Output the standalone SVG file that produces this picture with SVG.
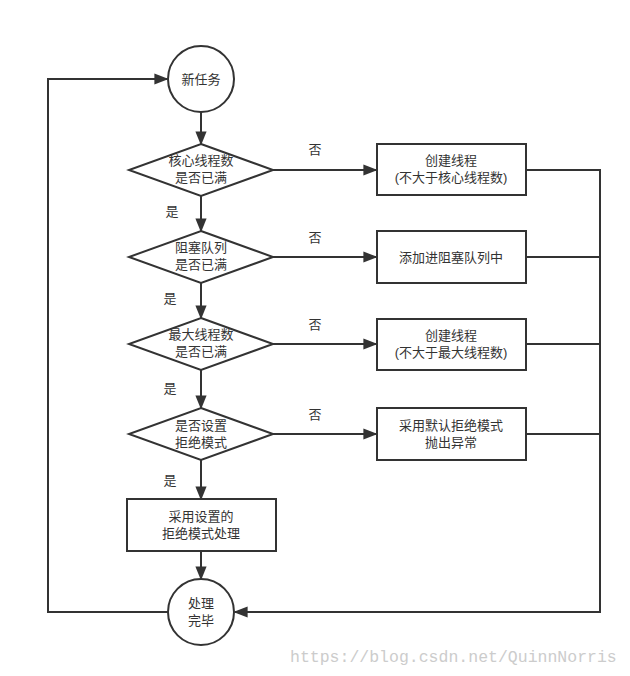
<svg xmlns="http://www.w3.org/2000/svg" width="630" height="676" viewBox="0 0 630 676">
<style>
.s{fill:#fff;stroke:#333;stroke-width:2}
.c{fill:none;stroke:#333;stroke-width:2}
text{font-family:"Liberation Sans","Noto Sans CJK SC",sans-serif;font-size:13px;fill:#333;text-anchor:middle}
.wm{font-family:"Liberation Mono","Noto Sans CJK SC",monospace;font-size:16.5px;fill:#ccc;text-anchor:start}
</style>
<defs>
<marker id="a" viewBox="0 0 10 10" refX="9" refY="5" markerWidth="14" markerHeight="14" markerUnits="userSpaceOnUse" orient="auto">
<path d="M0,1 L10,5 L0,9 Z" fill="#333"/>
</marker>
</defs>
<rect width="630" height="676" fill="#fff"/>
<g id="connectors">
<path class="c" d="M201,112 V144" marker-end="url(#a)"/>
<path class="c" d="M201,196 V231" marker-end="url(#a)"/>
<path class="c" d="M201,283 V318" marker-end="url(#a)"/>
<path class="c" d="M201,370 V408" marker-end="url(#a)"/>
<path class="c" d="M201,460 V499" marker-end="url(#a)"/>
<path class="c" d="M201,551 V579" marker-end="url(#a)"/>
<path class="c" d="M273,170 H376" marker-end="url(#a)"/>
<path class="c" d="M273,257 H376" marker-end="url(#a)"/>
<path class="c" d="M273,344 H376" marker-end="url(#a)"/>
<path class="c" d="M273,434 H376" marker-end="url(#a)"/>
<path class="c" d="M526,170 H600 V612 H235" marker-end="url(#a)"/>
<path class="c" d="M526,257 H600"/>
<path class="c" d="M526,344 H600"/>
<path class="c" d="M526,434 H600"/>
<path class="c" d="M168,612 H48 V79 H167" marker-end="url(#a)"/>
<text x="315" y="154">否</text>
<text x="315" y="242">否</text>
<text x="315" y="329">否</text>
<text x="315" y="419">否</text>
<text x="172" y="216">是</text>
<text x="170" y="303">是</text>
<text x="170" y="393">是</text>
<text x="170" y="485">是</text>
</g>
<g id="start">
<circle class="s" cx="201" cy="79" r="33"/>
<text x="201" y="84">新任务</text>
</g>
<g id="d1">
<polygon class="s" points="201,144 273,170 201,196 129,170"/>
<text x="201" y="165">核心线程数</text>
<text x="201" y="182">是否已满</text>
</g>
<g id="d2">
<polygon class="s" points="201,231 273,257 201,283 129,257"/>
<text x="201" y="252">阻塞队列</text>
<text x="201" y="269">是否已满</text>
</g>
<g id="d3">
<polygon class="s" points="201,318 273,344 201,370 129,344"/>
<text x="201" y="339">最大线程数</text>
<text x="201" y="356">是否已满</text>
</g>
<g id="d4">
<polygon class="s" points="201,408 273,434 201,460 129,434"/>
<text x="201" y="430">是否设置</text>
<text x="201" y="447">拒绝模式</text>
</g>
<g id="b1">
<rect class="s" x="377" y="144" width="149" height="51"/>
<text x="451" y="165">创建线程</text>
<text x="451" y="182">(不大于核心线程数)</text>
</g>
<g id="b2">
<rect class="s" x="377" y="231" width="149" height="52"/>
<text x="451" y="262">添加进阻塞队列中</text>
</g>
<g id="b3">
<rect class="s" x="377" y="319" width="149" height="51"/>
<text x="451" y="340">创建线程</text>
<text x="451" y="357">(不大于最大线程数)</text>
</g>
<g id="b4">
<rect class="s" x="377" y="408" width="149" height="52"/>
<text x="451" y="430">采用默认拒绝模式</text>
<text x="451" y="447">抛出异常</text>
</g>
<g id="b5">
<rect class="s" x="127" y="499" width="149" height="52"/>
<text x="201" y="521">采用设置的</text>
<text x="201" y="538">拒绝模式处理</text>
</g>
<g id="end">
<circle class="s" cx="201" cy="612" r="33"/>
<text x="201" y="608">处理</text>
<text x="201" y="625">完毕</text>
</g>
<text class="wm" x="290" y="662">https://blog.csdn.net/QuinnNorris</text>
</svg>
